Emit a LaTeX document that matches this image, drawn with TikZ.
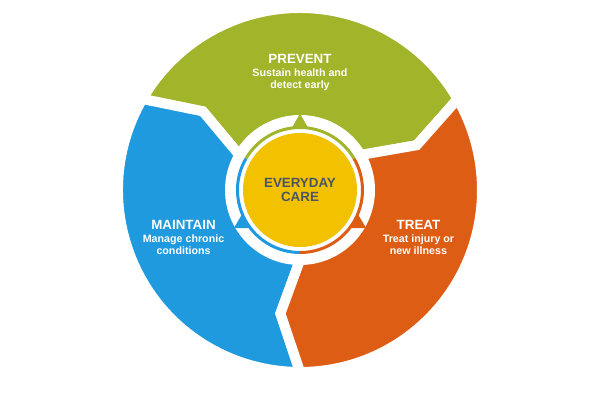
\documentclass[tikz,border=0pt]{standalone}
\usepackage{fontspec}
\setmainfont{Liberation Sans}
\usetikzlibrary{positioning}

\definecolor{preventgreen}{RGB}{162,180,42}
\definecolor{maintainblue}{RGB}{31,154,222}
\definecolor{treatorange}{RGB}{221,93,21}
\definecolor{careyellow}{RGB}{242,193,0}
\definecolor{caregray}{RGB}{77,85,99}

\begin{document}
\begin{tikzpicture}[scale=0.025,
    arcseg/.style={draw=white, line width=0.25cm, line join=miter},
    band/.style={line width=0.075cm},
    hub/.style={circle, fill=careyellow, minimum size=2.85cm, inner sep=0pt, align=center,
        text=caregray, font=\fontsize{9.5}{9.3}\selectfont\bfseries},
    segtitle/.style={text=white, inner sep=0pt, font=\fontsize{9.5}{9.5}\selectfont\bfseries},
    segtext/.style={text=white, inner sep=0pt, align=center, font=\fontsize{7.6}{8.4}\selectfont\bfseries}]

    \def\rout{182}
    \def\rmid{125}
    \def\rin{70}
    \def\rband{62.5}
    \def\rtip{76.5}

    \useasboundingbox (-300,-210) rectangle (300,190);

    % --- Outer segments ---
    % Prevent (top)
    \filldraw[arcseg, fill=preventgreen] (30:\rin) -- (21:\rmid) -- (30:\rout)
        arc[start angle=30, end angle=150, radius=\rout] -- (141:\rmid) -- (150:\rin)
        arc[start angle=150, end angle=30, radius=\rin] -- cycle;
    % Maintain (left)
    \filldraw[arcseg, fill=maintainblue] (150:\rin) -- (141:\rmid) -- (150:\rout)
        arc[start angle=150, end angle=270, radius=\rout] -- (261:\rmid) -- (270:\rin)
        arc[start angle=270, end angle=150, radius=\rin] -- cycle;
    % Treat (right)
    \filldraw[arcseg, fill=treatorange] (270:\rin) -- (261:\rmid) -- (270:\rout)
        arc[start angle=270, end angle=390, radius=\rout] -- (381:\rmid) -- (390:\rin)
        arc[start angle=390, end angle=270, radius=\rin] -- cycle;

    % --- Inner band with tips ---
    \draw[band, preventgreen] (30:\rband) arc[start angle=30, end angle=150, radius=\rband];
    \draw[band, maintainblue] (150:\rband) arc[start angle=150, end angle=270, radius=\rband];
    \draw[band, treatorange] (270:\rband) arc[start angle=270, end angle=390, radius=\rband];
    \fill[preventgreen] (82.5:\rband) -- (90:\rtip) -- (97.5:\rband) -- cycle;
    \fill[maintainblue] (202.5:\rband) -- (210:\rtip) -- (217.5:\rband) -- cycle;
    \fill[treatorange] (322.5:\rband) -- (330:\rtip) -- (337.5:\rband) -- cycle;

    % --- Centre ---
    \node[hub] (care) at (0,0) {EVERYDAY\\CARE};

    % --- Labels ---
    \node[segtitle] (prevent) at (0,131) {PREVENT};
    \node[segtext, below=3.5pt of prevent] (prevent-text) {Sustain health and\\detect early};

    \node[segtitle] (maintain) at (-116.5,-35) {MAINTAIN};
    \node[segtext, below=3.5pt of maintain] (maintain-text) {Manage chronic\\conditions};

    \node[segtitle] (treat) at (118.5,-35) {TREAT};
    \node[segtext, below=3.5pt of treat] (treat-text) {Treat injury or\\new illness};

\end{tikzpicture}
\end{document}
